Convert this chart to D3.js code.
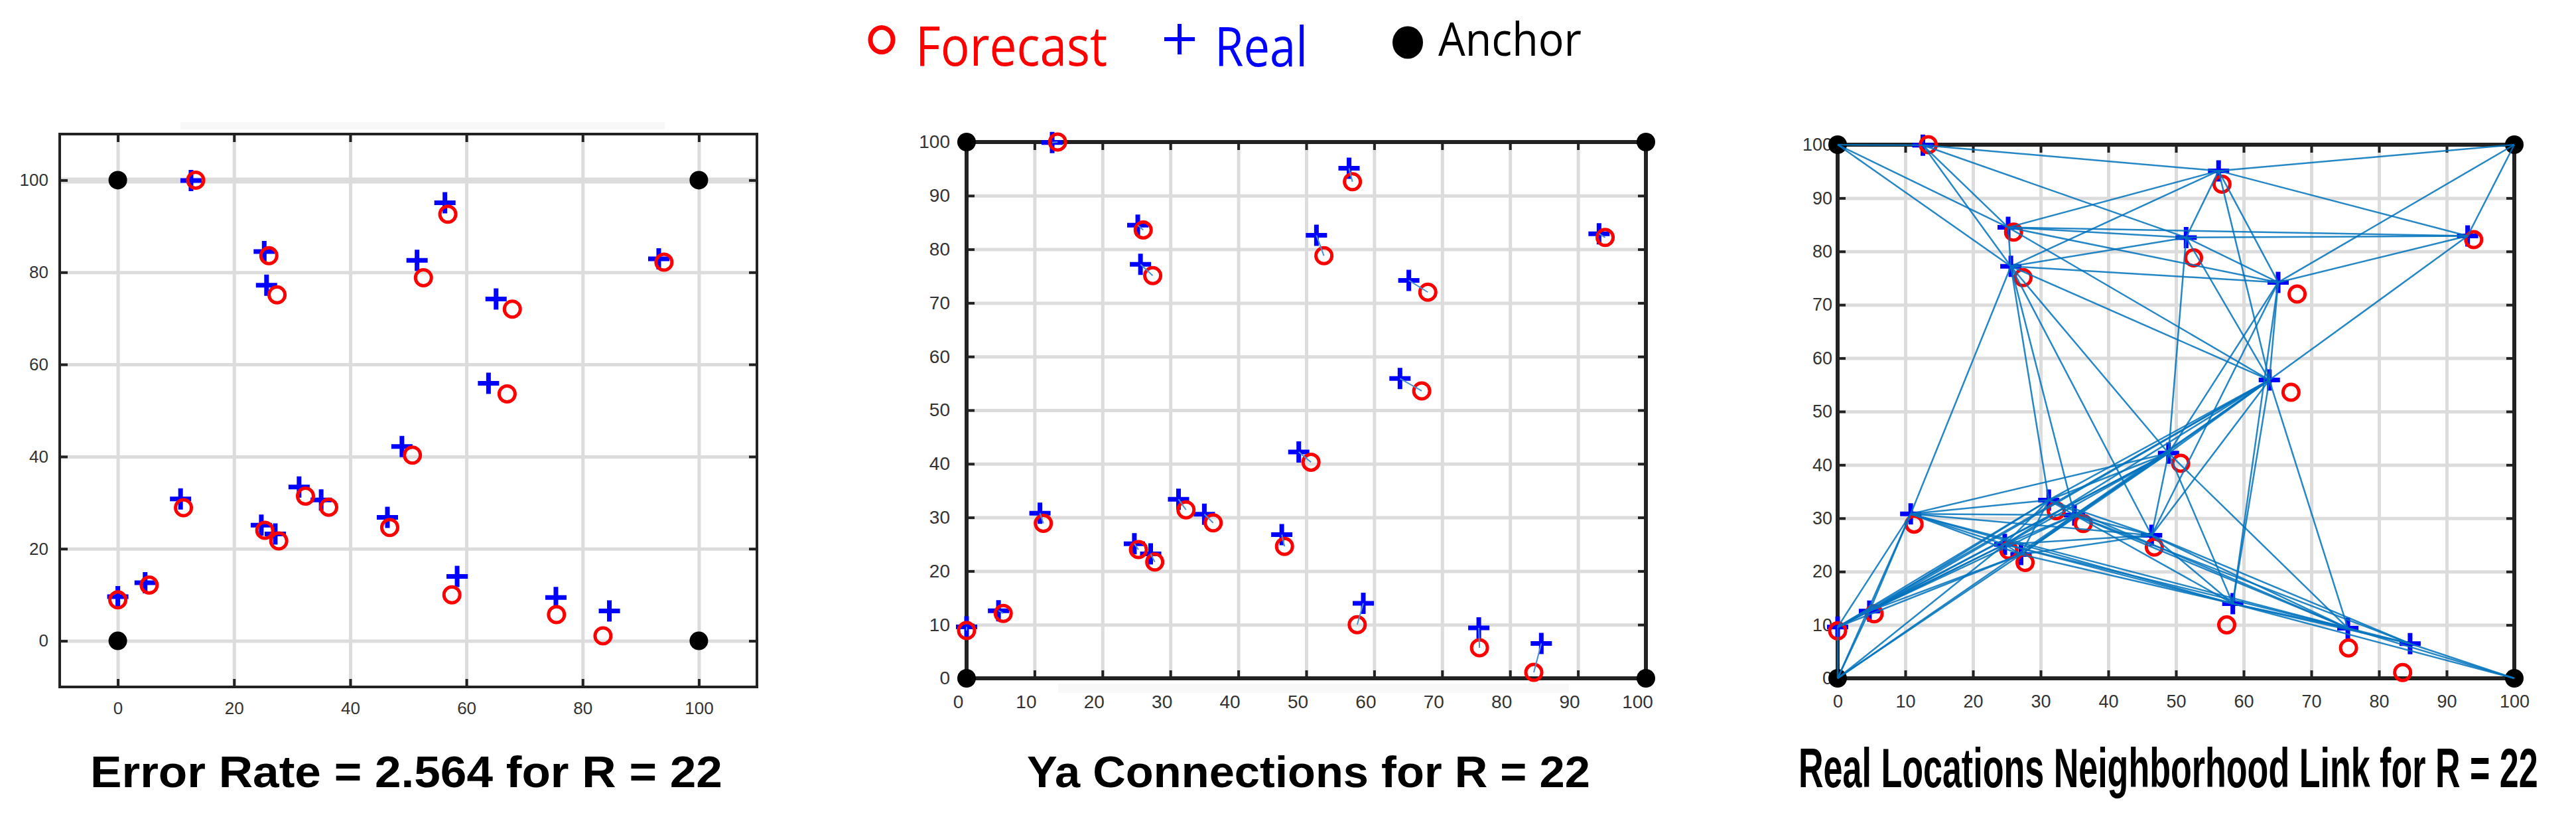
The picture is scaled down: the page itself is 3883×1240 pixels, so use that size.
<!DOCTYPE html>
<html lang="en">
<head>
<meta charset="UTF-8">
<title>Forecast vs Real locations, R = 22</title>
<script src="https://d3js.org/d3.v7.min.js"></script>
<style>
  body { margin: 0; background: #fff; }
  svg { display: block; }
  .grid line { stroke: #dcdcdc; stroke-width: 5px; }
  .grid .domain { display: none; }
  .ticks line { stroke: #222; stroke-width: 4px; }
  .ticks .domain { display: none; }
  .ticks text { font-family: "Liberation Sans", Arial, sans-serif; fill: #333; }
  .legend text { font-family: "Open Sans", sans-serif; }
  .title { font-family: "Liberation Sans Narrow", "Liberation Sans", Arial, sans-serif; font-weight: bold; fill: #000; }
</style>
</head>
<body>
<svg id="chart" width="3883" height="1240"></svg>
<script>
// anchor nodes (a0..a3)
const anchors = [[0, 0], [0, 100], [100, 100], [100, 0]];

// real node locations, ids 1..20
const real = [
  [0, 9.6], [4.7, 12.6], [10.8, 30.8], [12.6, 99.9], [24.7, 25.1],
  [27.1, 23.2], [25.2, 84.5], [25.6, 77.2], [31.2, 33.4], [35.0, 30.6],
  [46.4, 26.8], [48.9, 42.2], [51.5, 82.6], [56.3, 95.1], [63.8, 55.9],
  [65.1, 74.2], [58.4, 14.0], [75.4, 9.4], [84.6, 6.5], [93.1, 82.9]
];

// forecast locations, same order
const forecast = [
  [0, 8.9], [5.4, 12.1], [11.3, 28.9], [13.4, 100], [25.3, 24.0],
  [27.7, 21.7], [26.0, 83.6], [27.4, 75.1], [32.3, 31.4], [36.3, 29.0],
  [46.8, 24.6], [50.7, 40.3], [52.6, 78.8], [56.8, 92.6], [67.0, 53.6],
  [67.9, 72.0], [57.5, 10.0], [75.5, 5.7], [83.5, 1.1], [94.0, 82.2]
];

// neighbourhood links between real nodes / anchors
const links = [
  ["a1", 4], ["a1", 7], ["a1", 8],
  [4, 7], [4, 8], [4, 14], [4, 13],
  [7, 8], [7, 13], [7, 14], [7, 16], [7, 15], [7, 20],
  [8, 13], [8, 14], [8, 16], [8, 15], [8, 12], [8, 9], [8, 10], [8, 3], [8, 11],
  [13, 14], [13, 16], [13, 20], [13, 15], [13, 12],
  [14, 16], [14, 15], [14, 20], [14, "a2"],
  [16, 20], [16, "a2"], [16, 15], [16, 17], [16, 12], [16, 11],
  [20, "a2"], [20, 15],
  [15, 12], [15, 5], [15, 6], [15, 9], [15, 10], [15, 1], [15, 2], [15, 11], [15, 17], [15, 18],
  [12, 1], [12, 2], [12, 3], [12, 5], [12, 6], [12, 9], [12, 10], [12, 11], [12, 17], [12, 18],
  [3, "a0"], [3, 1], [3, 2], [3, 5], [3, 6], [3, 9], [3, 10], [3, 11], [3, 17], [3, 18],
  ["a0", 1], ["a0", 2], ["a0", 5], ["a0", 6], ["a0", 10],
  [1, 2], [1, 5], [1, 6], [1, 9],
  [2, 5], [2, 6], [2, 9], [2, 10],
  [5, 6], [5, 9], [5, 10], [5, 11], [5, 17], [5, 18],
  [6, 9], [6, 10], [6, 11], [6, 17],
  [9, 10], [9, 11], [9, 18],
  [10, 11], [10, 17], [10, 18], [10, 19],
  [11, 17], [11, 18], [11, 19],
  [17, 18], [17, 19], [17, "a3"],
  [18, 19], [18, "a3"], [19, "a3"]
];

const ticks20 = [0, 20, 40, 60, 80, 100];
const ticks10 = [0, 10, 20, 30, 40, 50, 60, 70, 80, 90, 100];

const titles = [
  "Error Rate = 2.564 for R = 22",
  "Ya Connections for R = 22",
  "Real Locations Neighborhood Link for R = 22"
];

const RED = "#ff0000", BLUE = "#0000ff";

const svg = d3.select("#chart");

function pos(k) {
  return typeof k === "string" ? anchors[+k.slice(1)] : real[k - 1];
}

function plusPath(s) {
  return `M${-s},0H${s}M0,${-s}V${s}`;
}

// squeeze a text horizontally so it spans `width` px from x
function fitText(sel, x, y, width) {
  const w = sel.node().getComputedTextLength();
  sel.attr("x", 0).attr("y", 0)
    .attr("transform", `translate(${x},${y}) scale(${width / w},1)`);
}

function drawFrame(p) {
  const g = svg.append("g");
  const [x0, x1] = p.x.range();
  const [y0, y1] = p.y.range();
  const w = x1 - x0, h = y0 - y1;

  // grid
  g.append("g").attr("class", "grid")
    .attr("transform", `translate(0,${y0})`)
    .call(d3.axisBottom(p.x).tickValues(p.ticks).tickSize(-h).tickFormat(""));
  const gy = g.append("g").attr("class", "grid")
    .attr("transform", `translate(${x0},0)`)
    .call(d3.axisLeft(p.y).tickValues(p.ticks).tickSize(-w).tickFormat(""));
  if (p.thickGrid) {
    gy.selectAll(".tick line").filter(d => p.thickGrid.includes(d)).style("stroke-width", "9px");
  }

  // faint scan artefact bands
  (p.bands || []).forEach(b => {
    g.append("rect").attr("x", b[0]).attr("y", b[1]).attr("width", b[2]).attr("height", b[3])
      .attr("fill", "#f8f8f8");
  });

  // box
  g.append("rect")
    .attr("x", x0).attr("y", y1).attr("width", w).attr("height", h)
    .attr("fill", "none").attr("stroke", "#222").attr("stroke-width", p.boxWidth);

  // inward ticks on all sides, labels on bottom/left
  const bottom = g.append("g").attr("class", "ticks")
    .attr("transform", `translate(0,${y0})`)
    .call(d3.axisBottom(p.x).tickValues(p.ticks).tickSize(-12).tickPadding(p.padB));
  bottom.selectAll("text").style("font-size", p.font + "px").attr("dx", p.dxB || 0);
  g.append("g").attr("class", "ticks")
    .attr("transform", `translate(0,${y1})`)
    .call(d3.axisTop(p.x).tickValues(p.ticks).tickSize(-12).tickFormat(""));
  const left = g.append("g").attr("class", "ticks")
    .attr("transform", `translate(${x0},0)`)
    .call(d3.axisLeft(p.y).tickValues(p.ticks).tickSize(-12).tickPadding(p.padL));
  left.selectAll("text").style("font-size", p.font + "px");
  g.append("g").attr("class", "ticks")
    .attr("transform", `translate(${x1},0)`)
    .call(d3.axisRight(p.y).tickValues(p.ticks).tickSize(-12).tickFormat(""));
  return g;
}

function drawMarkers(g, p) {
  g.append("g").selectAll("circle")
    .data(anchors).join("circle")
    .attr("cx", d => p.x(d[0])).attr("cy", d => p.y(d[1]))
    .attr("r", 14).attr("fill", "#000");
  g.append("g").selectAll("path")
    .data(real).join("path")
    .attr("transform", d => `translate(${p.x(d[0])},${p.y(d[1])})`)
    .attr("d", plusPath(16))
    .attr("fill", "none").attr("stroke", BLUE).attr("stroke-width", 7);
  g.append("g").selectAll("circle")
    .data(forecast).join("circle")
    .attr("cx", d => p.x(d[0])).attr("cy", d => p.y(d[1]))
    .attr("r", 12).attr("fill", "none").attr("stroke", RED).attr("stroke-width", 5);
}

// ---- panel 1: error rate ----
const p1 = {
  x: d3.scaleLinear().domain([-10, 110]).range([90, 1141]),
  y: d3.scaleLinear().domain([-10, 110]).range([1035, 202]),
  ticks: ticks20, font: 26, padB: 23, padL: 17, boxWidth: 4,
  thickGrid: [100],
  bands: [[272, 184, 730, 11]]
};
const g1 = drawFrame(p1);
drawMarkers(g1, p1);

// ---- panel 2: Ya connections ----
const p2 = {
  x: d3.scaleLinear().domain([0, 100]).range([1457, 2481]),
  y: d3.scaleLinear().domain([0, 100]).range([1022, 214]),
  ticks: ticks10, font: 28, padB: 25, padL: 25, dxB: -13, boxWidth: 6,
  bands: [[1595, 1030, 770, 14]]
};
const g2 = drawFrame(p2);
drawMarkers(g2, p2);
g2.append("g").selectAll("line")
  .data(real).join("line")
  .attr("x1", d => p2.x(d[0])).attr("y1", d => p2.y(d[1]))
  .attr("x2", (d, i) => p2.x(forecast[i][0])).attr("y2", (d, i) => p2.y(forecast[i][1]))
  .attr("stroke", "#4a90d0").attr("stroke-width", 2);

// ---- panel 3: neighbourhood links ----
const p3 = {
  x: d3.scaleLinear().domain([0, 100]).range([2770, 3790]),
  y: d3.scaleLinear().domain([0, 100]).range([1022, 218]),
  ticks: ticks10, font: 27, padB: 25, padL: 8, boxWidth: 6
};
const g3 = drawFrame(p3);
drawMarkers(g3, p3);
g3.append("g").selectAll("line")
  .data(links).join("line")
  .attr("x1", d => p3.x(pos(d[0])[0])).attr("y1", d => p3.y(pos(d[0])[1]))
  .attr("x2", d => p3.x(pos(d[1])[0])).attr("y2", d => p3.y(pos(d[1])[1]))
  .attr("stroke", "#0072BD").attr("stroke-width", 2.5).attr("stroke-opacity", 0.85);

// ---- legend ----
const lg = svg.append("g").attr("class", "legend");
lg.append("ellipse").attr("cx", 1329).attr("cy", 60).attr("rx", 17).attr("ry", 18.5)
  .attr("fill", "none").attr("stroke", RED).attr("stroke-width", 7);
fitText(lg.append("text").attr("font-size", 83).attr("fill", RED).text("Forecast"), 1380, 99, 289);
lg.append("path").attr("transform", "translate(1778,59)").attr("d", plusPath(23))
  .attr("stroke", BLUE).attr("stroke-width", 6);
fitText(lg.append("text").attr("font-size", 83).attr("fill", BLUE).text("Real"), 1831, 100, 140);
lg.append("ellipse").attr("cx", 2122).attr("cy", 64).attr("rx", 23).attr("ry", 24.5).attr("fill", "#000");
fitText(lg.append("text").attr("font-size", 70).attr("fill", "#000").text("Anchor"), 2168, 84, 216);

// ---- titles ----
const titlePos = [[136, 953, 67], [1548, 849, 67], [2711, 1115, 84]];
const tg = svg.append("g");
titles.forEach((t, i) => {
  const [x, width, size] = titlePos[i];
  fitText(tg.append("text").attr("class", "title").attr("font-size", size).text(t), x, 1186, width);
});
</script>
</body>
</html>
